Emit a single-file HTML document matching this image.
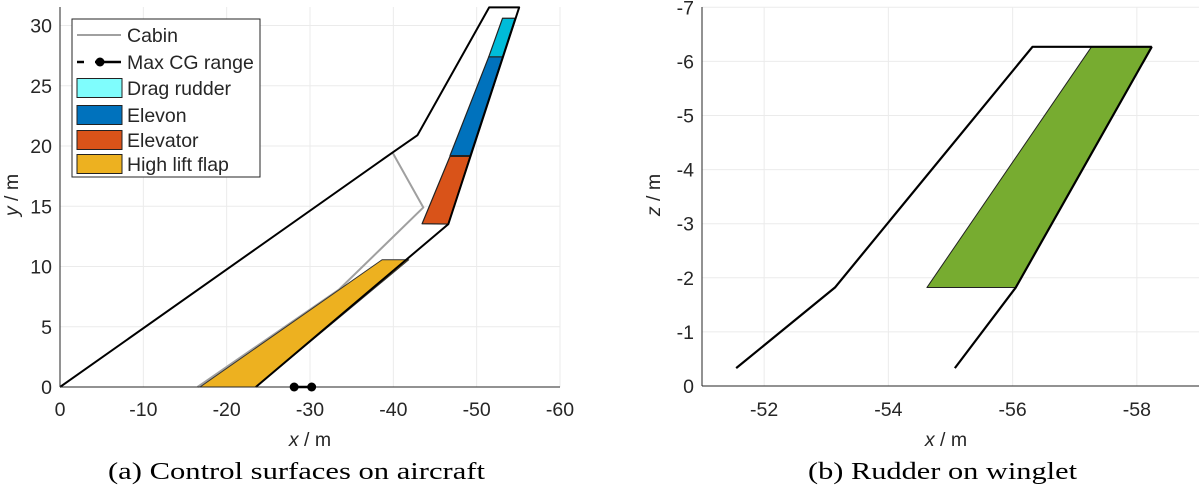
<!DOCTYPE html>
<html><head><meta charset="utf-8">
<style>
body{margin:0;background:#fff;}
svg{display:block;font-family:"Liberation Sans",Arial,sans-serif;}
.tick{font-size:19.5px;fill:#262626;}
.cap{font-family:"Liberation Serif",serif;font-size:24px;fill:#000;}
</style></head>
<body>
<svg id="c" width="1200" height="492" viewBox="0 0 1200 492">
<g id="A"></g>
<g id="B"></g>
<text class="cap" x="108" y="479" textLength="377" lengthAdjust="spacingAndGlyphs">(a) Control surfaces on aircraft</text>
<text class="cap" x="808" y="479" textLength="269" lengthAdjust="spacingAndGlyphs">(b) Rudder on winglet</text>
</svg>
<script>
// ---- Plot A data ----
const aXTicks=[0,-10,-20,-30,-40,-50,-60];
const aYTicks=[0,5,10,15,20,25,30];
const wingX=[0,-39.9,-42.9,-51.5,-55.1,-46.6,-23.5];
const wingY=[0,19.46,20.9,31.5,31.5,13.52,0];
const cabinX=[-16.5,-33.5,-43.6,-39.9];
const cabinY=[0,8.1,14.9,19.46];
const flapX=[-16.8,-38.65,-41.85,-23.5];
const flapY=[0,10.56,10.56,0];
const elevatorX=[-43.45,-46.8,-49.2,-46.6];
const elevatorY=[13.55,19.14,19.14,13.52];
const elevonX=[-46.8,-51.45,-53.1,-49.2];
const elevonY=[19.2,27.4,27.4,19.2];
const rudderX=[-51.45,-53.1,-54.6,-53.1];
const rudderY=[27.4,30.6,30.6,27.4];
const cgX=[-28.1,-30.2];
const cgY=[0,0];
// ---- Plot B data ----
const bXTicks=[-52,-54,-56,-58];
const bYTicks=[0,-1,-2,-3,-4,-5,-6,-7];
const leadX=[-51.55,-53.14,-56.32,-58.24,-56.05,-55.07];
const leadZ=[-0.33,-1.82,-6.27,-6.27,-1.82,-0.33];
const greenX=[-54.62,-57.27,-58.24,-56.05];
const greenZ=[-1.82,-6.27,-6.27,-1.82];

const NS="http://www.w3.org/2000/svg";
function mk(p,t,a){const e=document.createElementNS(NS,t);for(const k in a)e.setAttribute(k,a[k]);p.appendChild(e);return e;}
function pts(xs,ys,fx,fy){return xs.map((v,i)=>fx(v)+","+fy(ys[i])).join(" ");}

// Axis A
const A=document.getElementById('A');
const ax=v=>60+(v-0)/(-60)*500;
const ay=v=>387-(v)*12.05;
const aTop=7, aRight=560;
aXTicks.forEach(t=>{const l=mk(A,'line',{x1:ax(t),x2:ax(t),y1:aTop,y2:387,stroke:'#ebebeb'});
});
aYTicks.forEach(t=>{const l=mk(A,'line',{x1:60,x2:aRight,y1:ay(t),y2:ay(t),stroke:'#ebebeb'});
});
function poly(p,xs,ys,fx,fy,fill,stroke,sw,name){const e=mk(p,'polygon',{points:pts(xs,ys,fx,fy),fill:fill,stroke:stroke,'stroke-width':sw,'stroke-linejoin':'round'});
return e;}
function pl(p,xs,ys,fx,fy,stroke,sw,name){const e=mk(p,'polyline',{points:pts(xs,ys,fx,fy),fill:'none',stroke:stroke,'stroke-width':sw,'stroke-linejoin':'round'});
return e;}
pl(A,cabinX,cabinY,ax,ay,'#a0a0a0',2,'cabin-line');
poly(A,flapX,flapY,ax,ay,'#EDB120','#333',1,'high-lift-flap');
poly(A,elevatorX,elevatorY,ax,ay,'#D95319','#222',1.2,'elevator');
poly(A,elevonX,elevonY,ax,ay,'#0072BD','#222',1.2,'elevon');
poly(A,rudderX,rudderY,ax,ay,'#00BCD9','#222',1.2,'drag-rudder');
pl(A,wingX,wingY,ax,ay,'#000',2,'wing-outline');
let e=mk(A,'line',{x1:60,x2:aRight,y1:387,y2:387,stroke:'#262626'});
e=mk(A,'line',{x1:60,x2:60,y1:aTop,y2:387,stroke:'#262626'});
pl(A,cgX,cgY,ax,ay,'#000',2.5,'cg-range');
cgX.forEach((v,i)=>{const c=mk(A,'circle',{cx:ax(v),cy:ay(cgY[i]),r:4.5,fill:'#000'});});
aXTicks.forEach(t=>{const tx=mk(A,'text',{x:ax(t),y:416,'text-anchor':'middle',class:'tick'});tx.textContent=t;
});
aYTicks.forEach(t=>{const tx=mk(A,'text',{x:52,y:ay(t)+7,'text-anchor':'end',class:'tick'});tx.textContent=t;
});
e=mk(A,'text',{x:310,y:446,'text-anchor':'middle',class:'tick','font-size':'20'});e.innerHTML='<tspan font-style="italic">x</tspan> / m';

e=mk(A,'text',{x:18,y:195,'text-anchor':'middle',class:'tick','font-size':'20',transform:'rotate(-90 18 195)'});e.innerHTML='<tspan font-style="italic">y</tspan> / m';

const L=mk(A,'g',{});
mk(L,'rect',{x:72,y:19,width:188,height:158,fill:'#fff',stroke:'#262626','stroke-width':1});
const legItems=[['Cabin','line'],['Max CG range','cg'],['Drag rudder','#7FFDFD'],['Elevon','#0072BD'],['Elevator','#D95319'],['High lift flap','#EDB120']];
const legY=[35,62,88,115,140,164];
legItems.forEach((it,i)=>{const g=mk(L,'g',{});
const y=legY[i];
if(it[1]=='line'){mk(g,'line',{x1:77,x2:121,y1:y,y2:y,stroke:'#a0a0a0','stroke-width':2});}
else if(it[1]=='cg'){mk(g,'line',{x1:77,x2:84,y1:y,y2:y,stroke:'#000','stroke-width':2.5});mk(g,'line',{x1:95,x2:121,y1:y,y2:y,stroke:'#000','stroke-width':2.5});mk(g,'circle',{cx:100,cy:y,r:4.5,fill:'#000'});}
else{mk(g,'rect',{x:77,y:y-9.5,width:45,height:19,fill:it[1],stroke:'#222','stroke-width':1});}
const t=mk(g,'text',{x:127,y:y+7,class:'tick','font-size':'19',fill:'#000'});t.textContent=it[0];});

// Axis B
const B=document.getElementById('B');
const bx=v=>702+(v-(-51))/(-8)*497;
const by=v=>386-(v)*(-54.1);
bXTicks.forEach(t=>{const l=mk(B,'line',{x1:bx(t),x2:bx(t),y1:7,y2:386,stroke:'#ebebeb'});
});
bYTicks.forEach(t=>{const l=mk(B,'line',{x1:702,x2:1199,y1:by(t),y2:by(t),stroke:'#ebebeb'});
});
poly(B,greenX,greenZ,bx,by,'#77AC30','#222',1,'rudder-surface');
pl(B,leadX.slice(0,4),leadZ.slice(0,4),bx,by,'#000',2.2,'winglet-leading-edge');
pl(B,leadX.slice(3),leadZ.slice(3),bx,by,'#000',2.2,'winglet-trailing-edge');
e=mk(B,'line',{x1:702,x2:1199,y1:386,y2:386,stroke:'#262626'});
e=mk(B,'line',{x1:702,x2:702,y1:7,y2:386,stroke:'#262626'});
bXTicks.forEach(t=>{const tx=mk(B,'text',{x:bx(t),y:416,'text-anchor':'middle',class:'tick'});tx.textContent=t;
});
bYTicks.forEach(t=>{const tx=mk(B,'text',{x:694,y:by(t)+7,'text-anchor':'end',class:'tick'});tx.textContent=t;
});
e=mk(B,'text',{x:946,y:446,'text-anchor':'middle',class:'tick','font-size':'20'});e.innerHTML='<tspan font-style="italic">x</tspan> / m';

e=mk(B,'text',{x:660,y:195,'text-anchor':'middle',class:'tick','font-size':'20',transform:'rotate(-90 660 195)'});e.innerHTML='<tspan font-style="italic">z</tspan> / m';

</script>
</body></html>
